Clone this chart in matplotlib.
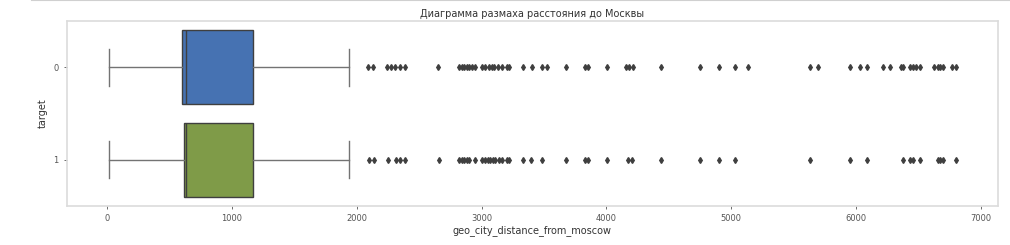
import matplotlib
matplotlib.use("Agg")
import matplotlib.pyplot as plt
from matplotlib.lines import Line2D

# box statistics (km)
groups = ["0", "1"]
q1 = [598, 611]
median = [632, 632]
q3 = [1166, 1166]
whisker_low = [16, 16]
whisker_high = [1940, 1940]

fliers_0 = [
    2092, 2132, 2239, 2271, 2306, 2346, 2389, 2653,
    2820, 2840, 2860, 2880, 2900, 2920, 2950, 3000, 3030, 3060, 3080,
    3100, 3130, 3160, 3200, 3220,
    3333, 3400, 3480, 3520, 3675, 3827, 3854, 4001, 4155, 4182, 4214, 4433,
    4753, 4903, 5031, 5132, 5631, 5698, 5954, 6029, 6087, 6215, 6271,
    6362, 6375, 6429, 6456, 6483, 6509, 6621, 6656, 6674, 6697, 6771, 6797,
]
fliers_1 = [
    2100, 2140, 2247, 2314, 2346, 2389, 2658,
    2820, 2840, 2860, 2880, 2900, 2950, 3000, 3030, 3050, 3070, 3090,
    3110, 3140, 3160, 3200, 3220,
    3333, 3392, 3480, 3675, 3827, 3854, 4001, 4171, 4203, 4433,
    4753, 4903, 5031, 5631, 5954, 6087, 6373, 6429, 6456, 6509,
    6656, 6674, 6697, 6797,
]
fliers = [fliers_0, fliers_1]

box_colors = ["#4672b2", "#7f9b48"]
edge = "#3f3f3f"

stats = []
for i, g in enumerate(groups):
    stats.append({
        "label": g,
        "q1": q1[i], "med": median[i], "q3": q3[i],
        "whislo": whisker_low[i], "whishi": whisker_high[i],
        "fliers": fliers[i],
    })

fig = plt.figure(figsize=(10.1, 2.45), dpi=100)
ax = fig.add_axes([0.0663, 0.159, 0.9217, 0.755])

bp = ax.bxp(
    stats,
    positions=[0, 1],
    widths=0.8,
    orientation="horizontal",
    patch_artist=True,
    showfliers=True,
    boxprops=dict(edgecolor=edge, linewidth=1.0),
    medianprops=dict(color=edge, linewidth=1.0),
    whiskerprops=dict(color="#737373", linewidth=1.0),
    capprops=dict(color="#737373", linewidth=1.0),
    capwidths=0.4,
    flierprops=dict(marker="d", markersize=3.0, markerfacecolor=edge,
                    markeredgecolor=edge, linestyle="none"),
)
for patch, c in zip(bp["boxes"], box_colors):
    patch.set_facecolor(c)

all_vals = whisker_low + fliers_0 + fliers_1
lo, hi = min(all_vals), max(all_vals)
pad = (hi - lo) * 0.05
ax.set_xlim(lo - pad, hi + pad)
ax.set_ylim(1.5, -0.5)
ax.set_yticks([0, 1])
ax.set_yticklabels(groups)
ax.set_xticks([0, 1000, 2000, 3000, 4000, 5000, 6000, 7000])

for s in ax.spines.values():
    s.set_color("#dcdcdc")
    s.set_linewidth(1.2)
ax.tick_params(colors="#555555", labelsize=6, length=2.5, width=0.6)

ax.set_xlabel("geo_city_distance_from_moscow", fontsize=7, color="#333333", labelpad=1)
ax.set_ylabel("target", fontsize=7, color="#333333", labelpad=4)
ax.set_title("Диаграмма размаха расстояния до Москвы", fontsize=7, color="#333333", pad=3)

# faint separator line at the top of the picture
fig.add_artist(Line2D([0.032, 1.0], [0.998, 0.998], transform=fig.transFigure,
                      color="#d0d0d0", linewidth=1.5))

fig.savefig("out.png", dpi=100)
